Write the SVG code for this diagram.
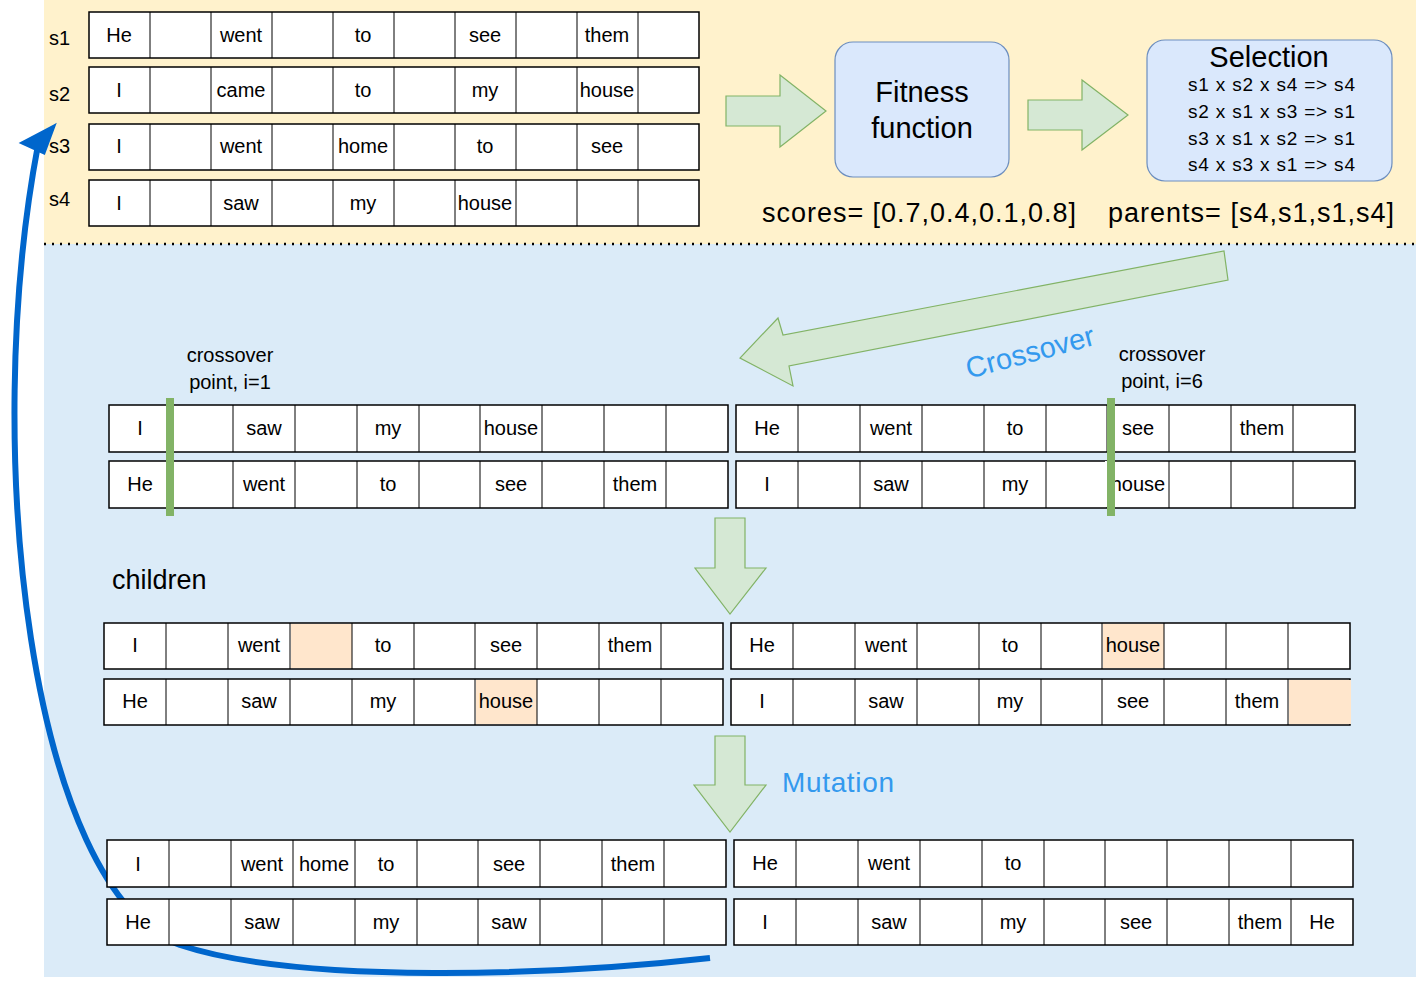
<svg xmlns="http://www.w3.org/2000/svg" width="1416" height="981" viewBox="0 0 1416 981">
<style>
text{font-family:"Liberation Sans",Arial,sans-serif;fill:#000}
.c{fill:#fff;stroke:#000;stroke-width:1.5}
.p{fill:#ffe6cc;stroke:none}
.w{font-size:20px;text-anchor:middle}
.ga{fill:#d5e8d4;stroke:#82b366;stroke-width:1.2}
.lbl{font-size:20px}
.box{fill:#dae8fc;stroke:#6c8ebf;stroke-width:1.2}
</style>
<rect x="44" y="0" width="1372" height="244" fill="#fff2cc"/>
<rect x="44" y="244" width="1372" height="733" fill="#dbebf8"/>
<line x1="44" y1="244" x2="1416" y2="244" stroke="#000" stroke-width="2.5" stroke-dasharray="2,6"/>
<g id="connectors">
<path d="M710,958 C560,975 300,985 180,945 C30,890 -20,450 38,145" fill="none" stroke="#0066cc" stroke-width="6"/>
<polygon points="54,126 22,143 44,153" fill="#0066cc" stroke="#0066cc" stroke-width="3"/>
<polygon class="ga" points="726,96 780,96 780,75 826,111 780,147 780,126 726,126"/>
<polygon class="ga" points="1028,100 1082,100 1082,80 1128,115 1082,150 1082,130 1028,130"/>
<polygon class="ga" points="1224,251 1228,280 789,366 793,386 740,358 778,318 783,335"/>
<polygon class="ga" points="715,518 745,518 745,568 766,568 730,614 695,568 715,568"/>
<polygon class="ga" points="715,736 745,736 745,785 766,785 730,832 694,785 715,785"/>
</g>
<g id="s1"><text class="lbl" x="49" y="45">s1</text>
<rect class="c" x="89" y="12" width="610" height="46"/>
<path d="M150,12v46M211,12v46M272,12v46M333,12v46M394,12v46M455,12v46M516,12v46M577,12v46M638,12v46" stroke="#000"/>
<text class="w" x="119" y="42">He</text><text class="w" x="241" y="42">went</text><text class="w" x="363" y="42">to</text><text class="w" x="485" y="42">see</text><text class="w" x="607" y="42">them</text></g>
<g id="s2"><text class="lbl" x="49" y="101">s2</text>
<rect class="c" x="89" y="67" width="610" height="46"/>
<path d="M150,67v46M211,67v46M272,67v46M333,67v46M394,67v46M455,67v46M516,67v46M577,67v46M638,67v46" stroke="#000"/>
<text class="w" x="119" y="97">I</text><text class="w" x="241" y="97">came</text><text class="w" x="363" y="97">to</text><text class="w" x="485" y="97">my</text><text class="w" x="607" y="97">house</text></g>
<g id="s3"><text class="lbl" x="49" y="153">s3</text>
<rect class="c" x="89" y="124" width="610" height="46"/>
<path d="M150,124v46M211,124v46M272,124v46M333,124v46M394,124v46M455,124v46M516,124v46M577,124v46M638,124v46" stroke="#000"/>
<text class="w" x="119" y="153">I</text><text class="w" x="241" y="153">went</text><text class="w" x="363" y="153">home</text><text class="w" x="485" y="153">to</text><text class="w" x="607" y="153">see</text></g>
<g id="s4"><text class="lbl" x="49" y="206">s4</text>
<rect class="c" x="89" y="180" width="610" height="46"/>
<path d="M150,180v46M211,180v46M272,180v46M333,180v46M394,180v46M455,180v46M516,180v46M577,180v46M638,180v46" stroke="#000"/>
<text class="w" x="119" y="210">I</text><text class="w" x="241" y="210">saw</text><text class="w" x="363" y="210">my</text><text class="w" x="485" y="210">house</text></g>
<g id="fitness"><rect class="box" x="835" y="42" width="174" height="135" rx="18"/>
<text x="922" y="102" font-size="29" text-anchor="middle">Fitness</text><text x="922" y="138" font-size="29" text-anchor="middle">function</text></g>
<g id="selection"><rect class="box" x="1147" y="40" width="245" height="141" rx="18"/>
<text x="1269" y="67" font-size="29" text-anchor="middle">Selection</text>
<text x="1188" y="91" font-size="19" textLength="167">s1 x s2 x s4 =&gt; s4</text>
<text x="1188" y="118" font-size="19" textLength="167">s2 x s1 x s3 =&gt; s1</text>
<text x="1188" y="145" font-size="19" textLength="167">s3 x s1 x s2 =&gt; s1</text>
<text x="1188" y="171" font-size="19" textLength="167">s4 x s3 x s1 =&gt; s4</text></g>
<text x="762" y="222" font-size="27" textLength="314">scores= [0.7,0.4,0.1,0.8]</text>
<text x="1108" y="222" font-size="27" textLength="286">parents= [s4,s1,s1,s4]</text>
<text x="1030" y="362" font-size="29" style="fill:#3399ee" text-anchor="middle" transform="rotate(-15 1030 352)">Crossover</text>
<text x="230" y="362" font-size="20" text-anchor="middle">crossover</text><text x="230" y="389" font-size="20" text-anchor="middle">point, i=1</text>
<text x="1162" y="361" font-size="20" text-anchor="middle">crossover</text><text x="1162" y="388" font-size="20" text-anchor="middle">point, i=6</text>
<g id="xl1"><rect class="c" x="109" y="405" width="619" height="47"/>
<path d="M171,405v47M233,405v47M295,405v47M357,405v47M419,405v47M480,405v47M542,405v47M604,405v47M666,405v47" stroke="#000"/>
<text class="w" x="140" y="435">I</text><text class="w" x="264" y="435">saw</text><text class="w" x="388" y="435">my</text><text class="w" x="511" y="435">house</text></g>
<g id="xl2"><rect class="c" x="109" y="461" width="619" height="47"/>
<path d="M171,461v47M233,461v47M295,461v47M357,461v47M419,461v47M480,461v47M542,461v47M604,461v47M666,461v47" stroke="#000"/>
<text class="w" x="140" y="491">He</text><text class="w" x="264" y="491">went</text><text class="w" x="388" y="491">to</text><text class="w" x="511" y="491">see</text><text class="w" x="635" y="491">them</text></g>
<g id="xr1"><rect class="c" x="736" y="405" width="619" height="47"/>
<path d="M798,405v47M860,405v47M922,405v47M984,405v47M1046,405v47M1107,405v47M1169,405v47M1231,405v47M1293,405v47" stroke="#000"/>
<text class="w" x="767" y="435">He</text><text class="w" x="891" y="435">went</text><text class="w" x="1015" y="435">to</text><text class="w" x="1138" y="435">see</text><text class="w" x="1262" y="435">them</text></g>
<g id="xr2"><rect class="c" x="736" y="461" width="619" height="47"/>
<path d="M798,461v47M860,461v47M922,461v47M984,461v47M1046,461v47M1107,461v47M1169,461v47M1231,461v47M1293,461v47" stroke="#000"/>
<text class="w" x="767" y="491">I</text><text class="w" x="891" y="491">saw</text><text class="w" x="1015" y="491">my</text><text class="w" x="1138" y="491">house</text></g>
<rect x="1105" y="461" width="6" height="46" fill="#fff"/>
<rect x="166" y="398" width="8" height="118" fill="#82b366"/>
<rect x="1107" y="398" width="8" height="118" fill="#82b366"/>
<text x="112" y="589" font-size="27">children</text>
<g id="cl1"><rect class="c" x="104" y="623" width="619" height="46"/>
<rect class="p" x="291" y="624" width="61" height="44"/>
<path d="M166,623v46M228,623v46M290,623v46M352,623v46M414,623v46M475,623v46M537,623v46M599,623v46M661,623v46" stroke="#000"/>
<text class="w" x="135" y="652">I</text><text class="w" x="259" y="652">went</text><text class="w" x="383" y="652">to</text><text class="w" x="506" y="652">see</text><text class="w" x="630" y="652">them</text></g>
<g id="cl2"><rect class="c" x="104" y="679" width="619" height="46"/>
<rect class="p" x="476" y="680" width="61" height="44"/>
<path d="M166,679v46M228,679v46M290,679v46M352,679v46M414,679v46M475,679v46M537,679v46M599,679v46M661,679v46" stroke="#000"/>
<text class="w" x="135" y="708">He</text><text class="w" x="259" y="708">saw</text><text class="w" x="383" y="708">my</text><text class="w" x="506" y="708">house</text></g>
<g id="cr1"><rect class="c" x="731" y="623" width="619" height="46"/>
<rect class="p" x="1103" y="624" width="61" height="44"/>
<path d="M793,623v46M855,623v46M917,623v46M979,623v46M1041,623v46M1102,623v46M1164,623v46M1226,623v46M1288,623v46" stroke="#000"/>
<text class="w" x="762" y="652">He</text><text class="w" x="886" y="652">went</text><text class="w" x="1010" y="652">to</text><text class="w" x="1133" y="652">house</text></g>
<g id="cr2"><rect class="c" x="731" y="679" width="619" height="46"/>
<rect class="p" x="1289" y="680" width="62" height="44"/>
<path d="M793,679v46M855,679v46M917,679v46M979,679v46M1041,679v46M1102,679v46M1164,679v46M1226,679v46M1288,679v46" stroke="#000"/>
<text class="w" x="762" y="708">I</text><text class="w" x="886" y="708">saw</text><text class="w" x="1010" y="708">my</text><text class="w" x="1133" y="708">see</text><text class="w" x="1257" y="708">them</text></g>
<text x="782" y="792" font-size="28" textLength="112" style="fill:#3399ee">Mutation</text>
<g id="ml1"><rect class="c" x="107" y="840" width="619" height="47"/>
<path d="M169,840v47M231,840v47M293,840v47M355,840v47M417,840v47M478,840v47M540,840v47M602,840v47M664,840v47" stroke="#000"/>
<text class="w" x="138" y="871">I</text><text class="w" x="262" y="871">went</text><text class="w" x="324" y="871">home</text><text class="w" x="386" y="871">to</text><text class="w" x="509" y="871">see</text><text class="w" x="633" y="871">them</text></g>
<g id="ml2"><rect class="c" x="107" y="899" width="619" height="46"/>
<path d="M169,899v46M231,899v46M293,899v46M355,899v46M417,899v46M478,899v46M540,899v46M602,899v46M664,899v46" stroke="#000"/>
<text class="w" x="138" y="929">He</text><text class="w" x="262" y="929">saw</text><text class="w" x="386" y="929">my</text><text class="w" x="509" y="929">saw</text></g>
<g id="mr1"><rect class="c" x="734" y="840" width="619" height="47"/>
<path d="M796,840v47M858,840v47M920,840v47M982,840v47M1044,840v47M1105,840v47M1167,840v47M1229,840v47M1291,840v47" stroke="#000"/>
<text class="w" x="765" y="870">He</text><text class="w" x="889" y="870">went</text><text class="w" x="1013" y="870">to</text></g>
<g id="mr2"><rect class="c" x="734" y="899" width="619" height="46"/>
<path d="M796,899v46M858,899v46M920,899v46M982,899v46M1044,899v46M1105,899v46M1167,899v46M1229,899v46M1291,899v46" stroke="#000"/>
<text class="w" x="765" y="929">I</text><text class="w" x="889" y="929">saw</text><text class="w" x="1013" y="929">my</text><text class="w" x="1136" y="929">see</text><text class="w" x="1260" y="929">them</text><text class="w" x="1322" y="929">He</text></g>
</svg>
